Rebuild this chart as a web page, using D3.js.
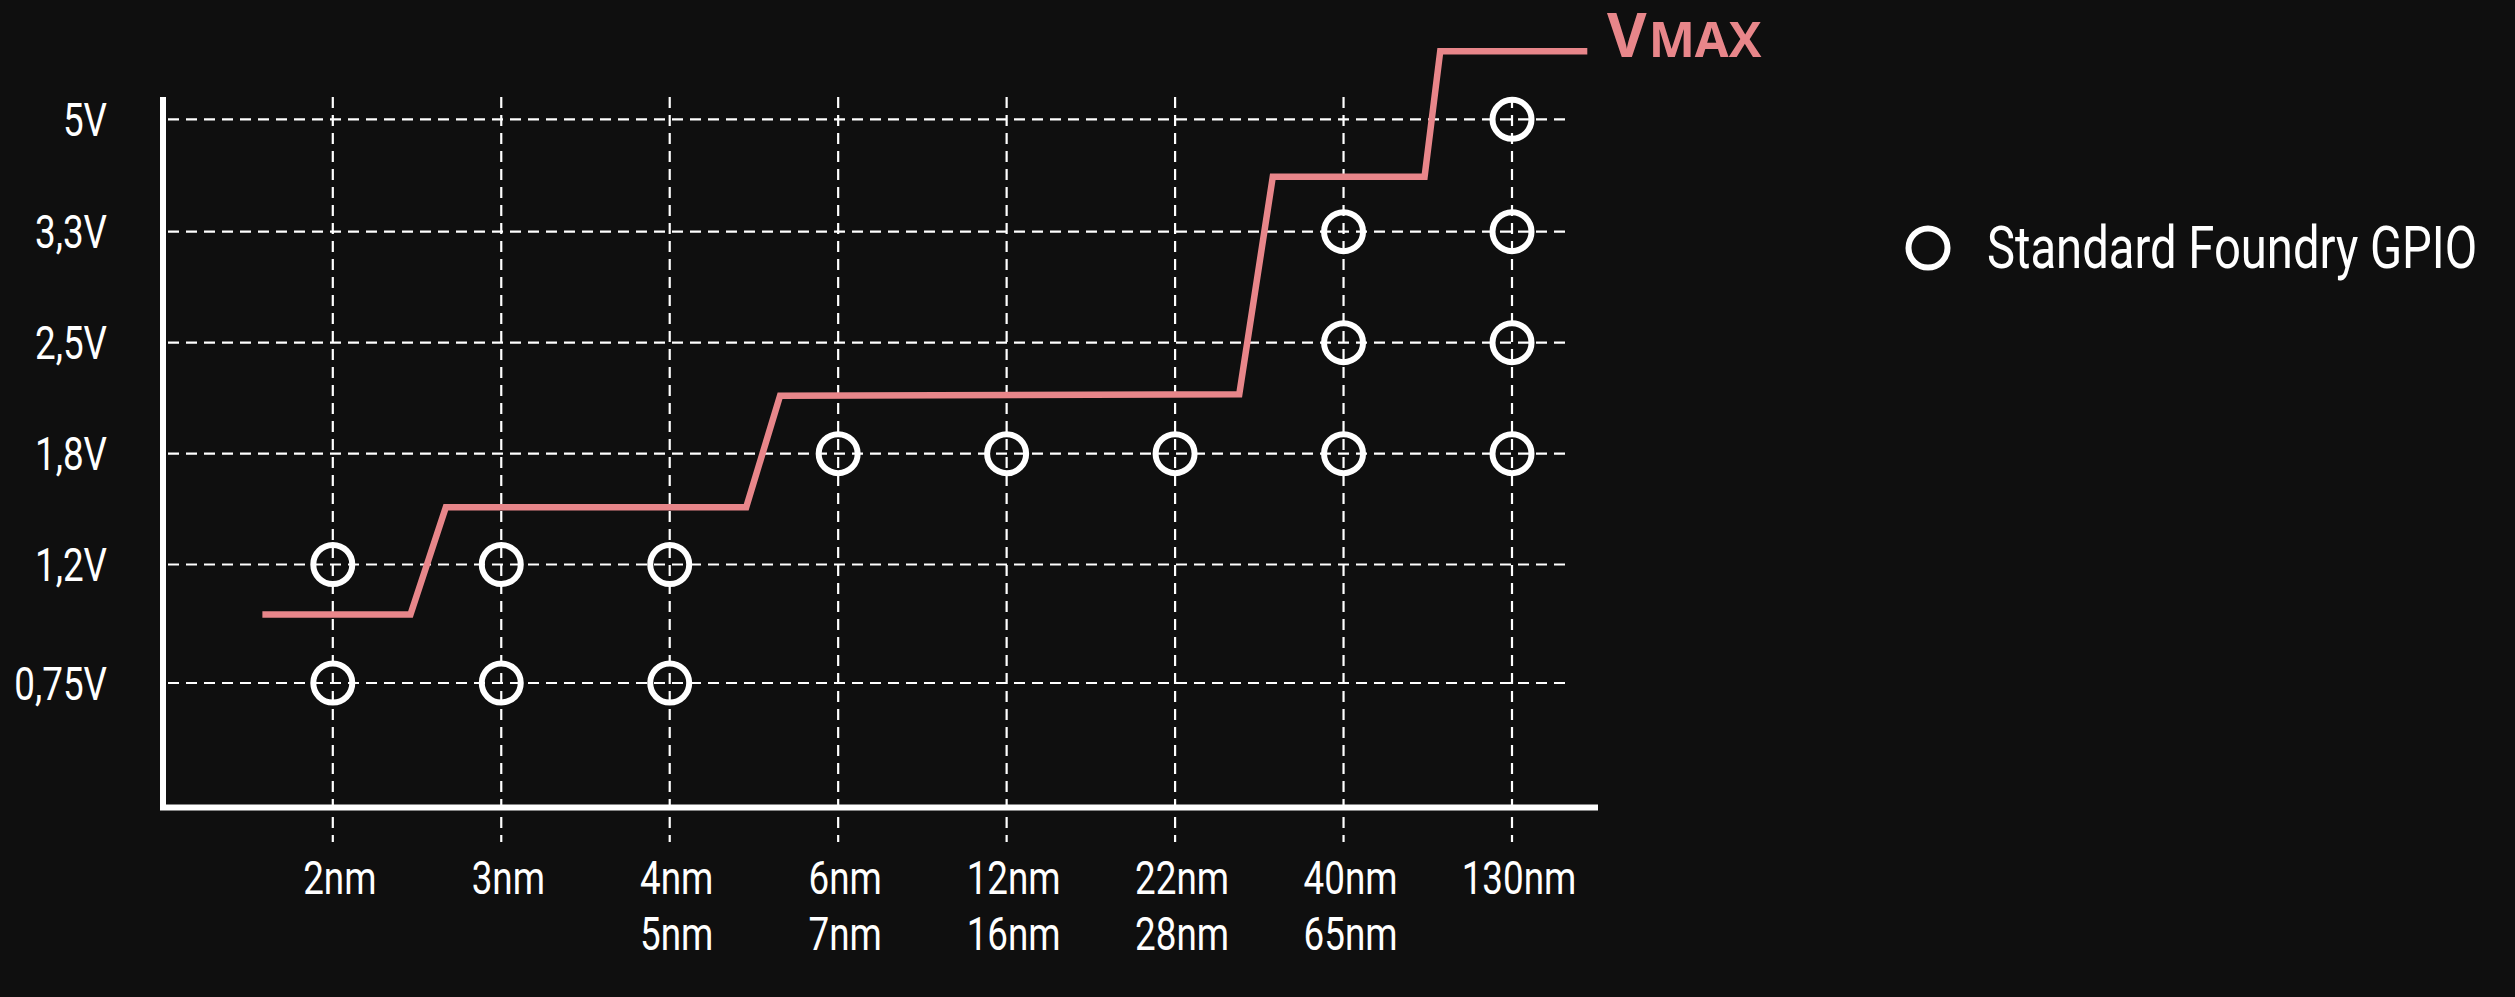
<!DOCTYPE html>
<html>
<head>
<meta charset="utf-8">
<script src="https://cdn.jsdelivr.net/npm/d3@7"></script>
<style>
  html, body { margin: 0; padding: 0; background: #0f0f0f; overflow: hidden; }
  svg { display: block; }
  .lbl { font-family: Roboto, "Noto Sans", sans-serif; font-weight: 400; fill: #fff; }
</style>
</head>
<body>
<svg id="chart" width="2515" height="997"></svg>
<script>
// process nodes (two-line labels) and voltage ticks
var nodeTop = ["2nm", "3nm", "4nm", "6nm", "12nm", "22nm", "40nm", "130nm"];
var nodeBottom = ["", "", "5nm", "7nm", "16nm", "28nm", "65nm", ""];
var voltTicks = [0.75, 1.2, 1.8, 2.5, 3.3, 5];
var voltLabels = ["0,75V", "1,2V", "1,8V", "2,5V", "3,3V", "5V"];

// standard foundry GPIO voltages per node
var gpioVolts = [
    [0.75, 1.2],
    [0.75, 1.2],
    [0.75, 1.2],
    [1.8],
    [1.8],
    [1.8],
    [1.8, 2.5, 3.3],
    [1.8, 2.5, 3.3, 5]
];

// Vmax step line: x in node index units, y in volts
var vmaxX = [-0.418, 0.461, 0.671, 2.454, 2.655, 5.381, 5.580, 6.481, 6.574, 7.447];
var vmaxV = [1.01, 1.01, 1.51, 1.51, 2.165, 2.175, 4.13, 4.13, 6.03, 6.03];

var svg = d3.select("#chart");
var pink = "#e8868a";
var squeeze = 0.8; // narrow typeface look

var x = d3.scaleLinear().domain([0, nodeTop.length - 1]).range([332.8, 1512]);
// uneven spacing of the voltage rows
var y = d3.scaleLinear().domain(voltTicks).range([683, 564.5, 453.7, 342.7, 231.7, 119.3]);

svg.append("rect").attr("width", 2515).attr("height", 997).attr("fill", "#0f0f0f");

// grid
var grid = svg.append("g")
    .attr("stroke", "#fff")
    .attr("stroke-width", 2.2)
    .attr("stroke-dasharray", "11,7");

grid.selectAll("line.h")
    .data(voltTicks)
    .enter().append("line")
    .attr("class", "h")
    .attr("x1", 168).attr("x2", 1566)
    .attr("y1", function (d) { return y(d); })
    .attr("y2", function (d) { return y(d); });

grid.selectAll("line.v")
    .data(nodeTop)
    .enter().append("line")
    .attr("class", "v")
    .attr("x1", function (d, i) { return x(i); })
    .attr("x2", function (d, i) { return x(i); })
    .attr("y1", 97).attr("y2", 842);

// axes frame
svg.append("path")
    .attr("d", "M163,97 V807.5 H1598")
    .attr("fill", "none")
    .attr("stroke", "#fff")
    .attr("stroke-width", 6);

// y labels
svg.selectAll("text.ylab")
    .data(voltLabels)
    .enter().append("text")
    .attr("class", "lbl ylab")
    .attr("text-anchor", "end")
    .attr("font-size", 46)
    .attr("transform", function (d, i) {
        return "translate(107," + (y(voltTicks[i]) + 16.5) + ") scale(" + squeeze + ",1)";
    })
    .text(function (d) { return d; });

// x labels
svg.selectAll("text.xtop")
    .data(nodeTop)
    .enter().append("text")
    .attr("class", "lbl xtop")
    .attr("text-anchor", "middle")
    .attr("font-size", 46)
    .attr("transform", function (d, i) { return "translate(" + (x(i) + 7) + ",894) scale(" + squeeze + ",1)"; })
    .text(function (d) { return d; });

svg.selectAll("text.xbot")
    .data(nodeBottom)
    .enter().append("text")
    .attr("class", "lbl xbot")
    .attr("text-anchor", "middle")
    .attr("font-size", 46)
    .attr("transform", function (d, i) { return "translate(" + (x(i) + 7) + ",950) scale(" + squeeze + ",1)"; })
    .text(function (d) { return d; });

// Vmax line
var vmaxLine = d3.line()
    .x(function (d) { return x(d[0]); })
    .y(function (d) { return y(d[1]); });

svg.append("path")
    .datum(d3.zip(vmaxX, vmaxV))
    .attr("d", vmaxLine)
    .attr("fill", "none")
    .attr("stroke", pink)
    .attr("stroke-width", 6.5)
    .attr("stroke-linejoin", "miter");

var vmaxLabel = svg.append("text")
    .attr("x", 1607)
    .attr("y", 56.5)
    .attr("fill", pink)
    .attr("font-family", "'Open Sans', sans-serif")
    .attr("font-weight", 700);
vmaxLabel.append("tspan").attr("font-size", 61).text("V");
vmaxLabel.append("tspan").attr("font-size", 49).attr("dx", 2).text("MAX");

// GPIO markers
var pts = [];
gpioVolts.forEach(function (vs, i) {
    vs.forEach(function (v) { pts.push({ i: i, v: v }); });
});

svg.selectAll("circle.gpio")
    .data(pts)
    .enter().append("circle")
    .attr("class", "gpio")
    .attr("cx", function (d) { return x(d.i); })
    .attr("cy", function (d) { return y(d.v); })
    .attr("r", 19.5)
    .attr("fill", "none")
    .attr("stroke", "#fff")
    .attr("stroke-width", 6);

// legend
svg.append("circle")
    .attr("cx", 1928).attr("cy", 248)
    .attr("r", 19.5)
    .attr("fill", "none")
    .attr("stroke", "#fff")
    .attr("stroke-width", 6);

svg.append("text")
    .attr("class", "lbl")
    .attr("font-size", 59)
    .attr("transform", "translate(1987,268) scale(" + squeeze + ",1)")
    .text("Standard Foundry GPIO");
</script>
</body>
</html>
